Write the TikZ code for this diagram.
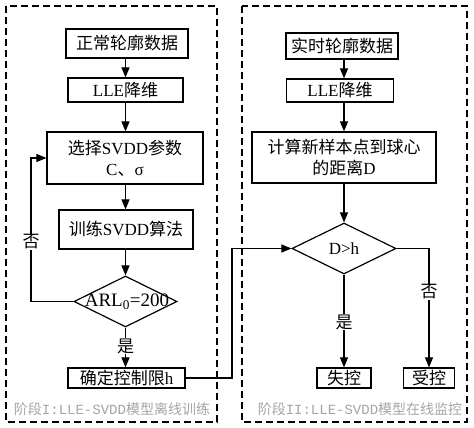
\documentclass[tikz,border=0pt]{standalone}
\usepackage{fontspec}
\setmainfont{Liberation Serif}
\newfontfamily\cjk{Noto Sans CJK SC}
\newfontfamily\stmono{Liberation Mono}
\usetikzlibrary{arrows.meta,shapes.geometric}
\definecolor{stagegray}{RGB}{165,165,165}
\begin{document}
\begin{tikzpicture}[x=1pt,y=-1pt,
  box/.style={draw, line width=1.2pt, inner sep=0pt, align=center,
    font=\fontsize{17}{21}\selectfont},
  dec/.style={draw, diamond, line width=1.2pt, inner sep=0pt, aspect=2,
    font=\fontsize{17}{21}\selectfont},
  arr/.style={line width=1.1pt, -{Triangle[length=10pt,width=8pt]}},
  ln/.style={line width=1.1pt},
  lab/.style={fill=white, inner sep=1pt, font=\fontsize{17}{21}\selectfont\cjk},
  frame/.style={line width=1.2pt, dash pattern=on 7pt off 4pt},
  stage/.style={text=stagegray, inner sep=0pt, font=\fontsize{14}{17}\selectfont}]
\useasboundingbox (0,0) rectangle (474,428);
\fill[white] (0,0) rectangle (474,428);
% frames
\draw[frame] (6,6) rectangle (217,422);
\draw[frame] (242,6) rectangle (467,422);
% left column
\node[box, minimum width=122pt, minimum height=29pt] (n1) at (127,43.5) {{\cjk 正常轮廓数据}};
\node[box, minimum width=115pt, minimum height=24pt] (n2) at (125.5,90) {LLE{\cjk 降维}};
\node[box, minimum width=156pt, minimum height=52pt] (n3) at (125,158) {{\cjk 选择}SVDD{\cjk 参数}\\C{\cjk 、}σ};
\node[box, minimum width=134pt, minimum height=39pt] (n4) at (126,229.5) {{\cjk 训练}SVDD{\cjk 算法}};
\node[dec, minimum width=103pt, minimum height=51pt] (d1) at (125.5,301.5) {};
\node[inner sep=0pt, font=\fontsize{19}{22}\selectfont] (t1) at (127,302) {ARL\textsubscript{0}=200};
\node[box, minimum width=117pt, minimum height=20pt] (n5) at (126.5,378) {{\cjk 确定控制限}h};
\node[stage] (s1) at (112,409) {{\cjk 阶段}{\stmono I:LLE-SVDD}{\cjk 模型离线训练}};
% right column
\node[box, minimum width=112pt, minimum height=26pt] (m1) at (342,46) {{\cjk 实时轮廓数据}};
\node[box, minimum width=107pt, minimum height=23pt] (m2) at (340,90.5) {LLE{\cjk 降维}};
\node[box, minimum width=184pt, minimum height=51pt] (m3) at (344,157.5) {{\cjk 计算新样本点到球心}\\{\cjk 的距离}D};
\node[dec, minimum width=104pt, minimum height=51pt] (d2) at (344,248.5) {};
\node[inner sep=0pt, font=\fontsize{17}{21}\selectfont] (t2) at (344,249) {D>h};
\node[box, minimum width=54pt, minimum height=20pt] (m4) at (344,378) {{\cjk 失控}};
\node[box, minimum width=51pt, minimum height=20pt] (m5) at (429,378) {{\cjk 受控}};
\node[stage] (s2) at (360,409) {{\cjk 阶段}{\stmono II:LLE-SVDD}{\cjk 模型在线监控}};
% left connectors
\draw[arr] (n1.south -| d1) -- (n2.north -| d1);
\draw[arr] (n2.south -| d1) -- (n3.north -| d1);
\draw[arr] (n3.south -| d1) -- (n4.north -| d1);
\draw[arr] (n4.south -| d1) -- (d1.north);
\draw[arr] (d1.south) -- (n5.north -| d1);
\node[lab] (y1) at (125.5,346) {是};
\coordinate (lp) at (31,230);
\draw[arr] (d1.west) -| (lp) |- (n3.west);
\node[lab] (no1) at (31,242) {否};
% cross connector
\coordinate (cx) at (232,248.5);
\draw[arr] (n5.east) -| (cx) -- (d2.west);
% right connectors
\draw[arr] (m1.south -| d2) -- (m2.north -| d2);
\draw[arr] (m2.south -| d2) -- (m3.north -| d2);
\draw[arr] (m3.south -| d2) -- (d2.north);
\draw[arr] (d2.south) -- (m4.north);
\node[lab] (y2) at (344,322) {是};
\draw[arr] (d2.east) -| (m5.north);
\node[lab] (no2) at (429,292) {否};
\end{tikzpicture}
\end{document}
